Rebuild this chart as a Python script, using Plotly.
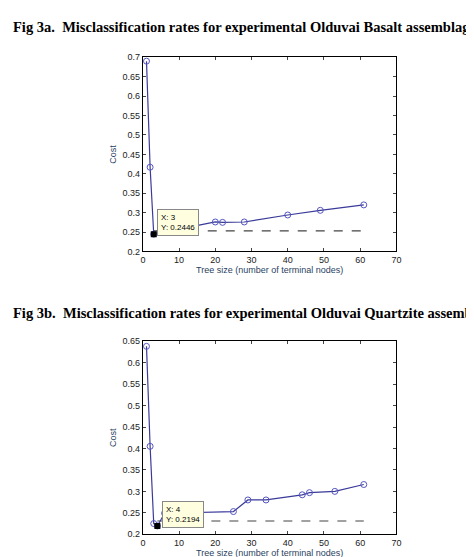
import plotly.graph_objects as go

# Fig 3a - Basalt
size_a = [1, 2, 3, 20, 22, 28, 40, 49, 61]
cost_a = [0.690, 0.417, 0.2446, 0.276, 0.275, 0.276, 0.294, 0.306, 0.320]
best_a = [3, 0.2446]
thresh_a = 0.253

# Fig 3b - Quartzite
size_b = [1, 2, 3, 4, 6, 25, 29, 34, 44, 46, 53, 61]
cost_b = [0.638, 0.405, 0.225, 0.2194, 0.249, 0.253, 0.280, 0.280, 0.292, 0.297, 0.300, 0.316]
best_b = [4, 0.2194]
thresh_b = 0.231

xticks = [0, 10, 20, 30, 40, 50, 60, 70]
yticks_a = [0.2, 0.25, 0.3, 0.35, 0.4, 0.45, 0.5, 0.55, 0.6, 0.65, 0.7]
yticks_b = [0.2, 0.25, 0.3, 0.35, 0.4, 0.45, 0.5, 0.55, 0.6, 0.65]

line_col = '#3a3a9a'
fig = go.Figure()

def add_panel(sx, cy, best, thr, xa, ya):
    fig.add_trace(go.Scatter(x=[best[0], sx[-1]], y=[thr, thr], mode='lines',
                             line=dict(color='#444', dash='dash', width=1.2),
                             xaxis=xa, yaxis=ya, showlegend=False))
    fig.add_trace(go.Scatter(x=sx, y=cy, mode='lines+markers',
                             line=dict(color=line_col, width=1.2),
                             marker=dict(symbol='circle-open', size=6, color='#5555c0', line=dict(width=1)),
                             xaxis=xa, yaxis=ya, showlegend=False))
    fig.add_trace(go.Scatter(x=[best[0]], y=[best[1]], mode='markers',
                             marker=dict(symbol='square', size=6, color='black'),
                             xaxis=xa, yaxis=ya, showlegend=False))

add_panel(size_a, cost_a, best_a, thresh_a, 'x', 'y')
add_panel(size_b, cost_b, best_b, thresh_b, 'x2', 'y2')

ax_common = dict(range=[0, 70], tickvals=xticks, ticks='inside', ticklen=3, mirror='ticks',
                 showline=True, linecolor='black', linewidth=1, showgrid=False, zeroline=False,
                 tickfont=dict(family='Arial', size=9, color='#222'),
                 title=dict(text='Tree size (number of terminal nodes)', font=dict(family='Arial', size=9), standoff=2))
ay_common = dict(ticks='inside', ticklen=3, mirror='ticks', showline=True, linecolor='black', linewidth=1,
                 showgrid=False, zeroline=False, tickfont=dict(family='Arial', size=9, color='#222'),
                 title=dict(text='Cost', font=dict(family='Arial', size=9), standoff=4))

fig.update_layout(
    width=474, height=557, margin=dict(l=0, r=0, t=0, b=0),
    paper_bgcolor='white', plot_bgcolor='white',
    xaxis=dict(domain=[0.283, 0.827], anchor='y', **ax_common),
    yaxis=dict(domain=[0.564, 0.919], anchor='x', range=[0.2, 0.7], tickvals=yticks_a,
               ticktext=[f'{v:g}' for v in yticks_a], **ay_common),
    xaxis2=dict(domain=[0.283, 0.827], anchor='y2', **ax_common),
    yaxis2=dict(domain=[0.047, 0.400], anchor='x2', range=[0.2, 0.65], tickvals=yticks_b,
                ticktext=[f'{v:g}' for v in yticks_b], **ay_common),
)

tip = dict(showarrow=False, align='left', xanchor='left', yanchor='top',
           bgcolor='#ffffe0', bordercolor='#888', borderwidth=1, borderpad=3,
           font=dict(family='Arial', size=8, color='black'))
fig.add_annotation(x=3.8, y=0.309, xref='x', yref='y',
                   text=f'X: {best_a[0]}<br>Y: {best_a[1]}', **tip)
fig.add_annotation(x=5.4, y=0.278, xref='x2', yref='y2',
                   text=f'X: {best_b[0]}<br>Y: {best_b[1]}', **tip)

title_font = dict(family='Liberation Serif', size=14.5, color='black')
fig.add_annotation(x=0, y=1 - 14 / 557, xref='paper', yref='paper', xanchor='left', yanchor='middle',
                   showarrow=False, font=title_font,
                   text='<b>Fig 3a.  Misclassification rates for experimental Olduvai Basalt assemblage</b>')
fig.add_annotation(x=0, y=1 - 305 / 557, xref='paper', yref='paper', xanchor='left', yanchor='middle',
                   showarrow=False, font=title_font,
                   text='<b>Fig 3b.  Misclassification rates for experimental Olduvai Quartzite assemblage</b>')

fig.write_html("out.html")
